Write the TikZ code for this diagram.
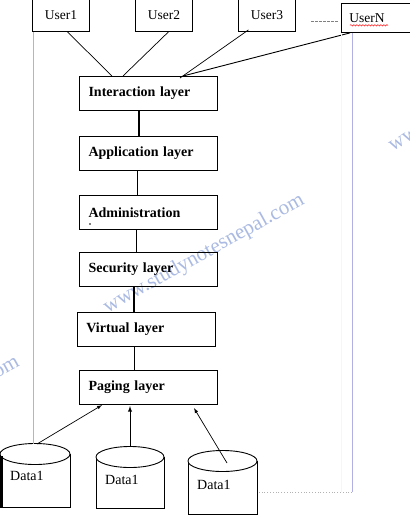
\documentclass[tikz,border=0pt]{standalone}
\usepackage{fontspec}
\setmainfont{Liberation Serif}
\usetikzlibrary{decorations.pathmorphing}

\definecolor{guideblue}{RGB}{176,176,228}
\definecolor{markblue}{RGB}{170,186,226}
\definecolor{paleyellow}{RGB}{252,248,222}

\begin{document}
\begin{tikzpicture}[x=1pt,y=-1pt,
	layer/.style = {draw, line width=1.1pt, anchor=north west, inner xsep=9pt, inner ysep=0pt,
		text width=120pt, align=left, minimum height=34pt, font=\fontsize{14}{16}\selectfont\bfseries},
	user/.style = {draw, line width=0.9pt, anchor=north west, inner sep=0pt,
		minimum width=57pt, minimum height=32pt, font=\fontsize{13.5}{15}\selectfont},
	datalabel/.style = {anchor=west, inner sep=0pt, font=\fontsize{14}{16}\selectfont},
	guide/.style = {color=guideblue, line width=0.8pt},
	watermark/.style = {color=markblue, rotate=29, inner sep=0pt, font=\fontsize{21}{23}\selectfont}]
	\useasboundingbox (0,0) rectangle (410,515);
	\clip (0,0) rectangle (410,515);
	\fill[white] (0,0) rectangle (410,515);

	% watermark text
	\foreach \dx/\dy in {-285/162, 0/0, 285/-162}
		\node[watermark] at ({204+\dx},{254+\dy}) {www.studynotesnepal.com};

	% users
	\node[user] (user1) at (32,-1) {User1};
	\node[user] (user2) at (135,-1) {User2};
	\node[user] (user3) at (238,-1) {User3};
	\node[user, minimum width=70pt, minimum height=29pt, text width=54pt, inner xsep=8pt, align=left] (userN) at (341,3) {UserN};
	\draw[red, line width=0.5pt, decorate, decoration={snake, amplitude=0.7pt, segment length=3pt}]
		([xshift=9pt,yshift=-3pt]userN.base west) -- ([xshift=47pt,yshift=-3pt]userN.base west);
	\draw[gray, line width=0.8pt, dash pattern=on 2.5pt off 1.5pt]
		([xshift=-30pt,yshift=-3.5pt]userN.west) -- ([xshift=-3pt,yshift=-3.5pt]userN.west);

	% layers
	\node[layer] (inter) at (79,76) {Interaction layer};
	\node[layer] (app) at (79,136) {Application layer};
	\node[layer] (admin) at (79,195) {Administration};
	\node[layer] (sec) at (79,252) {Security layer};
	\node[layer, line width=0.8pt] (virt) at (77,312) {Virtual layer};
	\node[layer] (pag) at (79,370) {Paging layer};
	\fill (90,224) circle (0.8);

	\draw[line width=0.7pt] ([xshift=6.5pt]user1.south) -- ([xshift=33pt]inter.north west);
	\draw[line width=0.7pt] ([xshift=4.5pt]user2.south) -- ([xshift=44pt]inter.north west);
	\draw[line width=0.7pt] ([xshift=-18.5pt,yshift=2pt]user3.south) -- ([xshift=101pt,yshift=-2pt]inter.north west);
	\draw[line width=0.9pt] ([xshift=9pt]userN.south west) -- ([xshift=104pt]inter.north west);

	\draw[line width=1.1pt] ([xshift=60pt]inter.south west) -- ([xshift=60pt]app.north west);
	\draw[line width=0.8pt] ([xshift=58pt]app.south west) -- ([xshift=58pt]admin.north west);
	\draw[line width=0.8pt] ([xshift=57pt]admin.south west) -- ([xshift=57pt]sec.north west);
	\draw[line width=1.1pt] ([xshift=55pt]sec.south west) -- ([xshift=57pt]virt.north west);
	\draw[line width=1pt] ([xshift=57pt]virt.south west) -- ([xshift=55pt]pag.north west);

	% data stores
	\foreach \l/\w/\cy/\b/\n in {0/70/454/507/1, 96/68/457/508/2, 188/69/461/514/3}{
		\draw[line width=0.9pt] (\l,\cy) -- (\l,\b) -- (\l+\w,\b) -- (\l+\w,\cy);
		\draw[line width=0.9pt, fill=white] (\l+\w/2,\cy) ellipse ({\w/2} and 10.5);
	}
	\draw[line width=2.5pt] (1.25,456) -- (1.25,507);
	\node[datalabel] (data1) at (10,476) {Data1};
	\node[datalabel] (data2) at (105,480) {Data1};
	\node[datalabel] (data3) at (197,485) {Data1};

	\coordinate (d1) at (37,444);
	\coordinate (d2) at (130,447);
	\coordinate (d3) at (227,463);
	\draw[-latex, line width=0.7pt] (d1) -- ([xshift=23pt]pag.south west);
	\draw[-latex, line width=0.9pt] (d2) -- ([xshift=51pt,yshift=-1pt]pag.south west);
	\draw[-latex, line width=0.7pt] (d3) -- ([xshift=115pt,yshift=-3pt]pag.south west);

	% side guides
	\coordinate (g1) at (33,444);
	\coordinate (corner) at (352,492);
	\coordinate (d3side) at (258,492);
	\draw[guide] ([xshift=1pt]user1.south west) -- (g1);
	\draw[paleyellow, line width=0.8pt] (userN.south west) -- (341,492);
	\draw[guide] ([xshift=11pt]userN.south west) -- (corner);
	\draw[guide, color=gray!60, dotted] (corner) -- (d3side);
\end{tikzpicture}
\end{document}
